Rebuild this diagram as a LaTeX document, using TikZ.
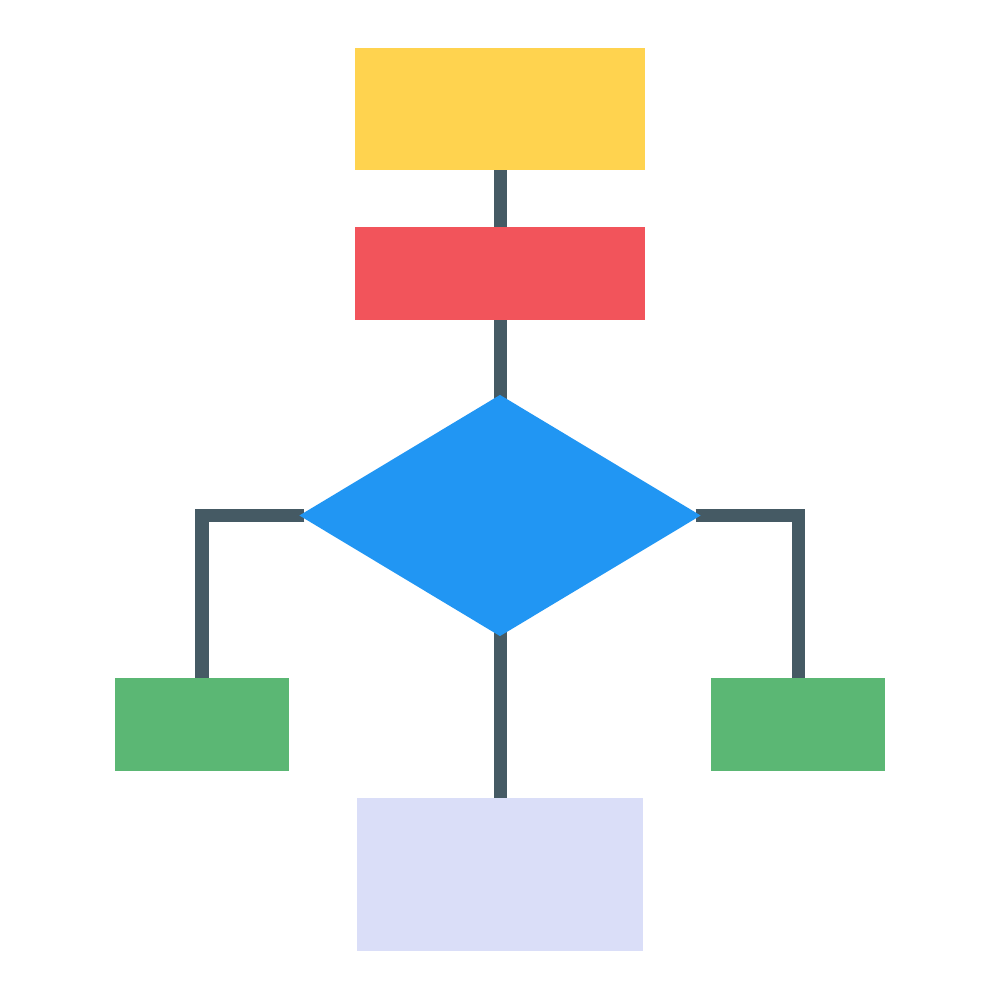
\documentclass[tikz,border=0pt]{standalone}
\usetikzlibrary{shapes.geometric,backgrounds}
\definecolor{cyellow}{HTML}{FFD34F}
\definecolor{cred}{HTML}{F2545B}
\definecolor{cblue}{HTML}{2196F3}
\definecolor{cgreen}{HTML}{5BB774}
\definecolor{clav}{HTML}{DADEF8}
\definecolor{cline}{HTML}{455A64}
\tikzset{
  box/.style={rectangle, inner sep=0pt, outer sep=0pt, draw=none},
  decide/.style={diamond, inner sep=0pt, outer sep=0pt, draw=none, fill=cblue},
  link/.style={draw=cline, line width=0.13cm, line cap=butt, line join=miter},
}
\begin{document}
\begin{tikzpicture}[x=0.01cm,y=-0.01cm]
\useasboundingbox (0,0) rectangle (1000,1000);
\node[box, fill=cyellow, minimum width=2.9cm, minimum height=1.22cm] (start) at (500,109) {};
\node[box, fill=cred, minimum width=2.9cm, minimum height=0.93cm] (proc) at (500,273.5) {};
\node[decide, minimum width=4.01cm, minimum height=2.41cm] (decision) at (500,515.5) {};
\node[box, fill=cgreen, minimum width=1.74cm, minimum height=0.93cm] (left) at (202,724.5) {};
\node[box, fill=cgreen, minimum width=1.74cm, minimum height=0.93cm] (right) at (798,724.5) {};
\node[box, fill=clav, minimum width=2.85cm, minimum height=1.53cm] (end) at (500,874.5) {};
\begin{scope}[on background layer]
\fill[white] (0,0) rectangle (1000,1000);
\path[link] (start.south) -- (proc.north);
\path[link] ([yshift=0.05cm]proc.south) -- ([yshift=-0.05cm]decision.north);
\path[link] ([yshift=0.05cm]decision.south) -- (end.north);
\path[link] ([xshift=0.05cm]decision.west) -| (left.north);
\path[link] ([xshift=-0.05cm]decision.east) -| (right.north);
\end{scope}
\end{tikzpicture}
\end{document}
